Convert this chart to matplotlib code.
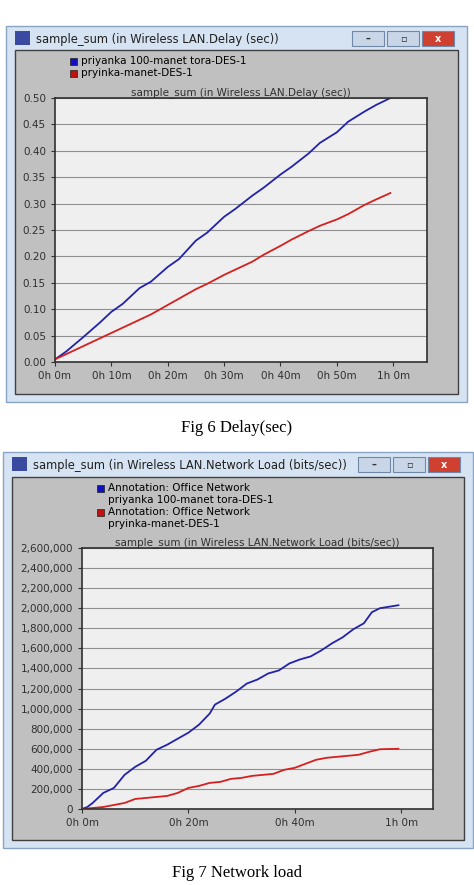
import matplotlib
matplotlib.use("Agg")
import matplotlib.pyplot as plt
from matplotlib.patches import Rectangle
from matplotlib.ticker import FuncFormatter

W, H = 474, 885

# ---- data ----
delay_t = [0, 2, 5, 8, 10, 12, 15, 17, 20, 22, 25, 27, 30, 32, 35, 37, 40, 42, 45, 47, 50, 52, 55, 57, 59.5]
delay_blue = [0.005, 0.02, 0.047, 0.075, 0.095, 0.11, 0.14, 0.152, 0.18, 0.195, 0.23, 0.245, 0.275, 0.29, 0.315, 0.33, 0.355, 0.37, 0.395, 0.415, 0.435, 0.455, 0.475, 0.487, 0.50]
delay_red = [0.005, 0.015, 0.03, 0.045, 0.055, 0.065, 0.08, 0.09, 0.108, 0.12, 0.138, 0.148, 0.165, 0.175, 0.19, 0.203, 0.22, 0.232, 0.248, 0.258, 0.27, 0.28, 0.298, 0.308, 0.32]
load_t_blue = [0, 1, 2, 4, 6, 8, 10, 12, 14, 16, 18, 20, 22, 24, 25, 27, 29, 31, 33, 35, 37, 39, 41, 43, 45, 47, 49, 51, 53, 54.5, 56, 59.5]
load_blue = [0, 20000, 60000, 160000, 210000, 340000, 420000, 480000, 590000, 640000, 700000, 760000, 840000, 950000, 1040000, 1100000, 1170000, 1250000, 1290000, 1350000, 1380000, 1450000, 1490000, 1520000, 1580000, 1650000, 1710000, 1790000, 1850000, 1960000, 2000000, 2030000]
load_t_red = [0, 4, 6, 8, 10, 12, 14, 16, 18, 20, 22, 24, 26, 28, 30, 32, 34, 36, 38, 40, 42, 44, 46, 48, 50, 52, 54, 56, 59.5]
load_red = [0, 20000, 40000, 60000, 100000, 110000, 120000, 130000, 160000, 210000, 230000, 260000, 270000, 300000, 310000, 330000, 340000, 350000, 390000, 410000, 450000, 490000, 510000, 520000, 530000, 540000, 570000, 595000, 600000]

BLUE = "#2222aa"
RED = "#d42020"

fig = plt.figure(figsize=(W / 100, H / 100), dpi=100)

def frect(x0, y0, x1, y1):
    return [x0 / W, 1 - y1 / H, (x1 - x0) / W, (y1 - y0) / H]

def add_rect(x0, y0, x1, y1, **kw):
    r = frect(x0, y0, x1, y1)
    fig.patches.append(Rectangle((r[0], r[1]), r[2], r[3], transform=fig.transFigure,
                                 zorder=-1, **kw))

def window(x0, y0, x1, y1, tb, title):
    add_rect(x0, y0, x1, y1, facecolor="#d6e3f2", edgecolor="#8aa4c4", lw=1)
    add_rect(x0 + 9, tb, x1 - 9, y1 - 8, facecolor="#c0c0c0", edgecolor="#404040", lw=1)
    add_rect(x0 + 9, y0 + 5, x0 + 24, y0 + 19, facecolor="#3a4aa0", edgecolor="none")
    fig.text((x0 + 30) / W, 1 - (y0 + 13) / H, title, fontsize=8.3, va="center", color="#202020")
    for i, (c, s) in enumerate([("#c9d6e8", "–"), ("#c9d6e8", "▫"), ("#d04030", "x")]):
        bx = x1 - 115 + i * 35
        add_rect(bx, y0 + 5, bx + 32, y0 + 20, facecolor=c, edgecolor="#7088a8", lw=0.8)
        fig.text((bx + 16) / W, 1 - (y0 + 12.5) / H, s, fontsize=7, ha="center", va="center",
                 color="white" if i == 2 else "#303030", fontweight="bold")

def legend_sq(x, y, color):
    add_rect(x, y - 3.5, x + 7, y + 3.5, facecolor=color, edgecolor="#202020", lw=0.5)

def style(ax):
    ax.set_zorder(2)
    ax.set_facecolor("#efefef")
    ax.grid(axis="y", color="#909090", lw=0.8)
    ax.set_axisbelow(True)
    for s in ax.spines.values():
        s.set_color("#303030")
        s.set_linewidth(1.2)
    ax.tick_params(labelsize=7.5, colors="#303030", length=3)

# ---- window 1 ----
window(6, 26, 467, 402, 50, "sample_sum (in Wireless LAN.Delay (sec))")
legend_sq(70, 61, "#1010c0")
fig.text(81 / W, 1 - 61 / H, "priyanka 100-manet tora-DES-1", fontsize=7.5, va="center")
legend_sq(70, 73, "#c01010")
fig.text(81 / W, 1 - 73 / H, "pryinka-manet-DES-1", fontsize=7.5, va="center")

ax1 = fig.add_axes(frect(55, 98, 427, 362))
style(ax1)
ax1.plot(delay_t, delay_blue, color=BLUE, lw=1.3)
ax1.plot(delay_t, delay_red, color=RED, lw=1.3)
ax1.set_xlim(0, 66)
ax1.set_ylim(0, 0.5)
ax1.set_yticks([i * 0.05 for i in range(11)])
ax1.yaxis.set_major_formatter(FuncFormatter(lambda v, p: f"{v:.2f}"))
ax1.set_xticks([0, 10, 20, 30, 40, 50, 60])
ax1.set_xticklabels(["0h 0m", "0h 10m", "0h 20m", "0h 30m", "0h 40m", "0h 50m", "1h 0m"])
ax1.set_title("sample_sum (in Wireless LAN.Delay (sec))", fontsize=7.5, pad=2, color="#303030")
fig.text(237 / W, 1 - 428 / H, "Fig 6 Delay(sec)", fontsize=12, ha="center", va="center",
         family="Liberation Serif")

# ---- window 2 ----
window(3, 452, 473, 848, 477, "sample_sum (in Wireless LAN.Network Load (bits/sec))")
legend_sq(97, 488, "#1010c0")
fig.text(108 / W, 1 - 488 / H, "Annotation: Office Network", fontsize=7.5, va="center")
fig.text(108 / W, 1 - 500 / H, "priyanka 100-manet tora-DES-1", fontsize=7.5, va="center")
legend_sq(97, 512, "#c01010")
fig.text(108 / W, 1 - 512 / H, "Annotation: Office Network", fontsize=7.5, va="center")
fig.text(108 / W, 1 - 524 / H, "pryinka-manet-DES-1", fontsize=7.5, va="center")

ax2 = fig.add_axes(frect(82, 548, 433, 809))
style(ax2)
ax2.plot(load_t_blue, load_blue, color=BLUE, lw=1.3)
ax2.plot(load_t_red, load_red, color=RED, lw=1.3)
ax2.set_xlim(0, 66)
ax2.set_ylim(0, 2600000)
ax2.set_yticks(range(0, 2600001, 200000))
ax2.yaxis.set_major_formatter(FuncFormatter(lambda v, p: f"{int(v):,}"))
ax2.set_xticks([0, 20, 40, 60])
ax2.set_xticklabels(["0h 0m", "0h 20m", "0h 40m", "1h 0m"])
ax2.set_title("sample_sum (in Wireless LAN.Network Load (bits/sec))", fontsize=7.5, pad=2, color="#303030")
fig.text(237 / W, 1 - 873 / H, "Fig 7 Network load", fontsize=12, ha="center", va="center",
         family="Liberation Serif")

fig.savefig("out.png", dpi=100)
